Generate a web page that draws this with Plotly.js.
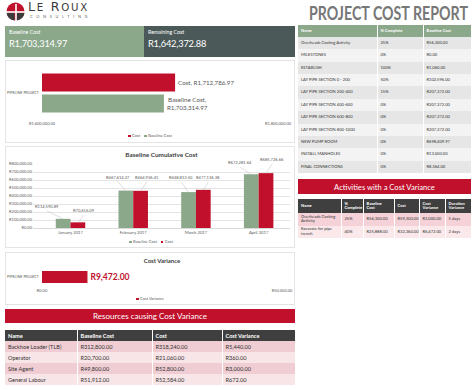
<!DOCTYPE html>
<html><head><meta charset="utf-8">
<script src="https://cdn.plot.ly/plotly-3.0.1.min.js"></script>
<style>
html,body{margin:0;padding:0;background:#fff}
body{width:474px;height:390px;overflow:hidden;position:relative;font-family:Lato,"Noto Sans","DejaVu Sans",sans-serif;color:#333}
.panel{position:absolute;box-sizing:border-box;border:1px solid #e4e4e4;background:#fff}
table{border-collapse:collapse;table-layout:fixed;position:absolute}
td{padding:0 0 0 3px;overflow:hidden;text-align:left;border-right:1px solid #fff;box-sizing:border-box;line-height:1.05;white-space:nowrap}
.banner{position:absolute;background:#c0102b;color:#fff;display:flex;align-items:center;justify-content:center;box-sizing:border-box}
.leg{position:absolute;display:flex;align-items:center;justify-content:center;font-size:4px;color:#595959;line-height:1;white-space:nowrap}
.leg span.sw{display:inline-block;width:2.5px;height:2.5px;margin-right:1.5px}
.leg span.it{display:inline-flex;align-items:center;margin:0 2px}
</style></head>
<body>
<script>
// ---------- DATA ----------
const summaryLabels = ['Baseline Cost', 'Remaining Cost'];
const summaryValues = [1703314.97, 1642372.88];

const projectCategory = ['PIPELINE PROJECT'];
const projectBaseline = [1703314.97];
const projectCost = [1712786.97];

const months = ['January 2017', 'February 2017', 'March 2017', 'April 2017'];
const cumBaseline = [114590.89, 467614.27, 448813.50, 672281.64];
const cumCost = [70616.09, 464936.41, 477136.38, 685726.66];

const costVariance = [9472.00];

const activityHeaders = ['Name', '% Complete', 'Baseline Cost'];
const activityNames = ['Overheads Costing Activity', 'MILESTONES', 'ESTABLISH', 'LAY PIPE SECTION 0 - 200',
  'LAY PIPE SECTION 200-400', 'LAY PIPE SECTION 400-600', 'LAY PIPE SECTION 600-800',
  'LAY PIPE SECTION 800-1000', 'NEW PUMP ROOM', 'INSTALL MANHOLES', 'FINAL CONNECTIONS'];
const activityPct = ['25%', '0%', '100%', '50%', '15%', '0%', '0%', '0%', '0%', '0%', '0%'];
const activityBaseline = [56300.00, 0.00, 1060.00, 102596.00, 207372.00, 207372.00, 207372.00,
  207372.00, 698409.97, 13000.00, 8364.00];

const varHeaders = ['Name', '%<br>Complete', 'Baseline<br>Cost', 'Cost', 'Cost<br>Variance', 'Duration<br>Variance'];
const varNames = ['Overheads Costing<br>Activity', 'Excavate for pipe<br>trench'];
const varPct = ['25%', '40%'];
const varBaseline = [56300.00, 25888.00];
const varCost = [59300.00, 32360.00];
const varVariance = [3000.00, 6472.00];
const varDuration = ['5 days', '2 days'];

const resHeaders = ['Name', 'Baseline Cost', 'Cost', 'Cost Variance'];
const resNames = ['Backhoe Loader (TLB)', 'Operator', 'Site Agent', 'General Labour'];
const resBaseline = [312800.00, 20700.00, 49800.00, 51912.00];
const resCost = [318240.00, 21060.00, 52800.00, 52584.00];
const resVariance = [5440.00, 360.00, 3000.00, 672.00];

// ---------- STYLE ----------
const RED = '#c0102b';
const GREEN = '#8ba88b';
const DARK = '#3f3f3f';
const FONT = 'Lato, "Noto Sans", sans-serif';
const NARROW = '"Liberation Sans Narrow", Lato, sans-serif';
const fmtR = v => 'R' + v.toLocaleString('en-US', {minimumFractionDigits: 2, maximumFractionDigits: 2});

function el(tag, css, html, cls) {
  const e = document.createElement(tag);
  if (css) e.style.cssText = css;
  if (html !== undefined) e.innerHTML = html;
  if (cls) e.className = cls;
  document.body.appendChild(e);
  return e;
}

// ---------- LOGO ----------
el('div', 'position:absolute;left:5px;top:1px;width:22px;height:22px',
 '<svg width="22" height="22" viewBox="0 0 22 22">' +
 '<circle cx="10.5" cy="10.5" r="9" fill="' + RED + '"/>' +
 '<path d="M12 12 L19.5 12 A9 9 0 0 1 12 19.4 Z" fill="#3a3a3a"/>' +
 '<path d="M1.6 12 L9.5 12 L9.5 19.4 A9 9 0 0 1 1.6 12 Z" fill="#3a3a3a"/>' +
 '<line x1="0" y1="11" x2="22" y2="11" stroke="#fff" stroke-width="1.6"/>' +
 '<line x1="11" y1="3" x2="11" y2="22" stroke="#fff" stroke-width="1.6"/>' +
 '</svg>');
el('div', 'position:absolute;left:28px;top:1.4px;height:12.5px;line-height:12.5px;font-size:12.5px;letter-spacing:1.8px;color:#3a3a3a;font-family:"DejaVu Sans",sans-serif;white-space:nowrap', 'L<span style="font-size:10.2px">E</span> R<span style="font-size:10.2px">OUX</span>');
el('div', 'position:absolute;left:30px;top:15.4px;height:4px;line-height:4px;font-size:4px;letter-spacing:3.6px;color:#666;white-space:nowrap', 'CONSULTING');

// ---------- TITLE ----------
el('div', 'position:absolute;left:288px;top:2px;width:200px;text-align:center;font-size:18px;font-weight:700;color:#777;white-space:nowrap;transform:scaleX(0.79);transform-origin:50% 50%', 'PROJECT COST REPORT');

// ---------- SUMMARY BOXES ----------
const boxDefs = [[5, 139, GREEN], [144, 151, '#4b5a59']];
summaryLabels.forEach((lab, i) => {
  const [x, w, c] = boxDefs[i];
  el('div', `position:absolute;left:${x}px;top:26px;width:${w}px;height:31px;background:${c};color:#fff`,
    `<div style="position:absolute;left:4px;top:3px;font-size:5.3px">${lab}</div>` +
    `<div style="position:absolute;left:4px;top:12px;font-size:9.3px;letter-spacing:-0.2px">${fmtR(summaryValues[i])}</div>`);
});

// ---------- PANELS ----------
el('div', 'left:5px;top:60px;width:290px;height:83px', '', 'panel');
el('div', 'left:5px;top:146px;width:290px;height:102px', '', 'panel');
el('div', 'left:5px;top:252px;width:290px;height:53px', '', 'panel');

// ---------- TABLES ----------
function makeTable(left, top, widths, headers, rows, o) {
  let h = `<colgroup>${widths.map(w => `<col style="width:${w}px">`).join('')}</colgroup>`;
  h += `<tr style="height:${o.hh}px;background:${o.hbg}">` + headers.map(t =>
    `<td style="color:#fff;font-weight:700;font-size:${o.hfs}px">${t}</td>`).join('') + '</tr>';
  rows.forEach((r, i) => {
    h += `<tr style="height:${o.rh}px;background:${o.rbg[i % 2]}">` + r.map(t =>
      `<td style="font-size:${o.fs}px;color:#333">${t}</td>`).join('') + '</tr>';
  });
  return el('table', `left:${left}px;top:${top}px;width:${widths.reduce((a, b) => a + b, 0)}px`, h);
}

makeTable(298, 25, [79, 46, 48], activityHeaders,
  activityNames.map((n, i) => [n, activityPct[i], fmtR(activityBaseline[i])]),
  {hh: 12, hbg: GREEN, hfs: 4.1, rh: 12.36, rbg: ['#e6e6e6', '#f3f3f3'], fs: 4.1});

el('div', 'left:298px;top:179px;width:173px;height:15px;font-size:7.6px', 'Activities with a Cost Variance', 'banner');

makeTable(298, 199, [43, 22, 31, 25, 26, 26], varHeaders,
  varNames.map((n, i) => [n, varPct[i], fmtR(varBaseline[i]), fmtR(varCost[i]), fmtR(varVariance[i]), varDuration[i]]),
  {hh: 14, hbg: DARK, hfs: 4.1, rh: 12.5, rbg: ['#f4d2d8', '#fae8eb'], fs: 4.1});

el('div', 'left:5px;top:309px;width:290px;height:14px;font-size:8px', 'Resources causing Cost Variance', 'banner');

makeTable(5, 330, [72, 75, 70, 73], resHeaders,
  resNames.map((n, i) => [n, fmtR(resBaseline[i]), fmtR(resCost[i]), fmtR(resVariance[i])]),
  {hh: 11, hbg: DARK, hfs: 5.6, rh: 11, rbg: ['#f0cdd3', '#f8e5e8'], fs: 5.6});

// ---------- LEGENDS (HTML, built from trace names/colours) ----------
function legend(cx, cy, traces) {
  const html = traces.map(t => `<span class="it"><span class="sw" style="background:${t.marker.color}"></span>${t.name}</span>`).join('');
  el('div', `left:${cx - 60}px;top:${cy - 3}px;width:120px;height:6px`, html, 'leg');
}

// ---------- CHARTS ----------
const cfg = {staticPlot: true, displayModeBar: false};

el('div', 'position:absolute;left:5px;top:60px;width:290px;height:82px').id = 'c1';
el('div', 'position:absolute;left:5px;top:146px;width:290px;height:104px').id = 'c2';
el('div', 'position:absolute;left:5px;top:253px;width:290px;height:52px').id = 'c3';

const t1 = [
  {type: 'bar', orientation: 'h', name: 'Baseline Cost', y: projectCategory, x: projectBaseline,
   marker: {color: GREEN}, texttemplate: 'Baseline Cost,<br>R%{x:,.2f}', textposition: 'outside',
   textfont: {size: 6.2, color: '#595959'}, cliponaxis: false, constraintext: 'none'},
  {type: 'bar', orientation: 'h', name: 'Cost', y: projectCategory, x: projectCost,
   marker: {color: RED}, texttemplate: 'Cost, R%{x:,.2f}', textposition: 'outside',
   textfont: {size: 6.2, color: '#595959'}, cliponaxis: false, constraintext: 'none'}
];
Plotly.newPlot('c1', t1, {
  width: 290, height: 82, margin: {l: 37, r: 17, t: 6, b: 22},
  paper_bgcolor: 'rgba(0,0,0,0)', plot_bgcolor: 'rgba(0,0,0,0)',
  font: {family: FONT, color: '#595959'},
  barmode: 'group', bargap: 0.22, bargroupgap: 0.15,
  xaxis: {range: [1600000, 1800000], dtick: 200000, tick0: 1600000, tickprefix: 'R', tickformat: ',.2f',
    tickfont: {size: 4}, showgrid: true, gridcolor: '#e4e4e4', zeroline: false, showline: false},
  yaxis: {tickfont: {size: 3.7, family: NARROW}, showline: false, ticks: '', ticklabelstandoff: 2},
  showlegend: false
}, cfg);
legend(150, 136, [t1[1], t1[0]]);

const ann = [];
const offs = [[-16, -6], [6, -5], [-8, -7], [6, -7], [-7, -8], [5, -6], [-11, -5], [6, -7]];
months.forEach((m, i) => {
  [[cumBaseline[i], -7.5, offs[i * 2]], [cumCost[i], 7.5, offs[i * 2 + 1]]].forEach(([v, sh, o]) => {
    ann.push({x: m, y: v, xshift: sh, text: fmtR(v), showarrow: true, arrowhead: 0, arrowwidth: 0.5,
      arrowcolor: '#bfbfbf', ax: o[0], ay: o[1] - 2, font: {size: 4.1, color: '#595959'}, standoff: 0, yanchor: 'bottom'});
  });
});

const t2 = [
  {type: 'bar', name: 'Baseline Cost', x: months, y: cumBaseline, marker: {color: GREEN}},
  {type: 'bar', name: 'Cost', x: months, y: cumCost, marker: {color: RED}}
];
Plotly.newPlot('c2', t2, {
  width: 290, height: 104, margin: {l: 28, r: 5, t: 18, b: 22},
  paper_bgcolor: 'rgba(0,0,0,0)', plot_bgcolor: 'rgba(0,0,0,0)',
  font: {family: FONT, color: '#595959'},
  title: {text: '<b>Baseline Cumulative Cost</b>', font: {size: 6.4, color: '#404040'},
    x: 0.5, xanchor: 'center', xref: 'paper', y: 1 - 9 / 104, yanchor: 'middle', yref: 'container'},
  barmode: 'group', bargap: 0.53, bargroupgap: 0,
  xaxis: {tickfont: {size: 4.2}, showline: true, linecolor: '#d9d9d9', ticks: ''},
  yaxis: {range: [0, 800000], dtick: 100000, tickprefix: 'R', tickformat: ',.2f', tickfont: {size: 4},
    showgrid: true, gridcolor: '#e4e4e4', zeroline: false},
  annotations: ann,
  showlegend: false
}, cfg);
legend(151, 242, t2);

const t3 = [
  {type: 'bar', orientation: 'h', name: 'Cost Variance', y: projectCategory, x: costVariance,
   marker: {color: RED}, width: 0.6, texttemplate: '<b>R%{x:,.2f}</b>', textposition: 'outside',
   textfont: {size: 8.5, color: RED}, cliponaxis: false, constraintext: 'none'}
];
Plotly.newPlot('c3', t3, {
  width: 290, height: 52, margin: {l: 37, r: 13, t: 14, b: 18},
  paper_bgcolor: 'rgba(0,0,0,0)', plot_bgcolor: 'rgba(0,0,0,0)',
  font: {family: FONT, color: '#595959'},
  title: {text: '<b>Cost Variance</b>', font: {size: 6, color: '#404040'},
    x: 0.5, xanchor: 'center', xref: 'paper', y: 1 - 8 / 52, yanchor: 'middle', yref: 'container'},
  xaxis: {range: [0, 50000], dtick: 50000, tick0: 0, tickprefix: 'R', tickformat: ',.2f',
    tickfont: {size: 4}, showgrid: true, gridcolor: '#e4e4e4', zeroline: false},
  yaxis: {tickfont: {size: 3.7, family: NARROW}, ticks: '', ticklabelstandoff: 2},
  showlegend: false
}, cfg);
legend(150, 299, t3);
</script>
</body></html>
